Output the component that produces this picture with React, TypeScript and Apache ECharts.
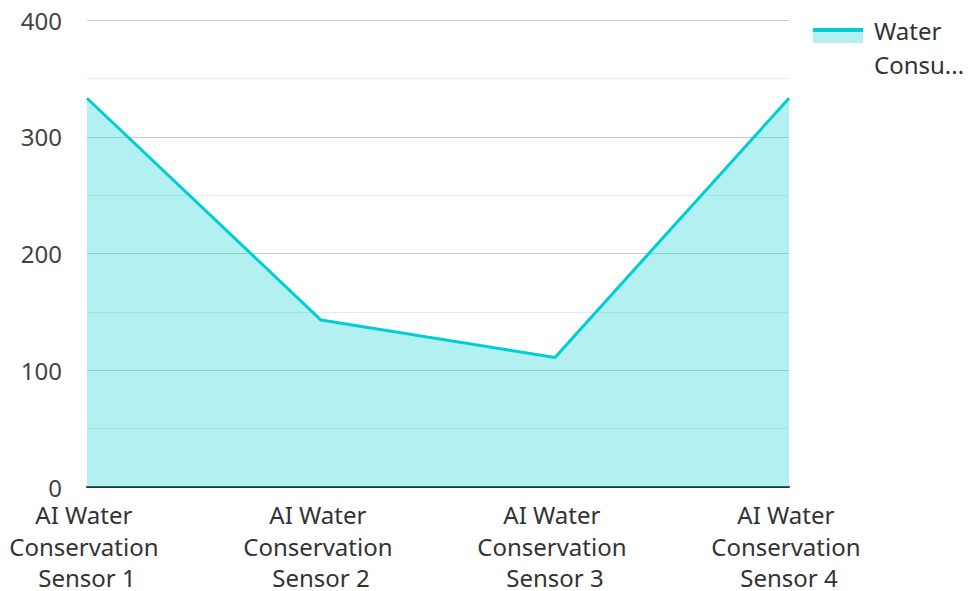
import React, { useEffect, useRef } from "react";
import * as echarts from "echarts";

const categories = [
  "AI Water Conservation Sensor 1",
  "AI Water Conservation Sensor 2",
  "AI Water Conservation Sensor 3",
  "AI Water Conservation Sensor 4",
];
const waterValues = [333, 143, 111, 333];
const seriesName = "Water Consumption";

export default function App() {
  const ref = useRef<HTMLDivElement>(null);
  useEffect(() => {
    const chart = echarts.init(ref.current!, undefined, { renderer: "svg" });
    const font = "'Noto Sans', 'Open Sans', sans-serif";
    chart.setOption({
      animation: false,
      textStyle: { fontFamily: font },
      grid: { left: 87, right: 179, top: 20, bottom: 104, outerBoundsMode: "none", containLabel: false },
      legend: {
        left: 813,
        top: 13,
        padding: 0,
        orient: "vertical",
        icon: "rect",
        itemWidth: 50,
        itemHeight: 38,
        itemStyle: {
          color: {
            type: "linear",
            x: 0,
            y: 0,
            x2: 0,
            y2: 1,
            colorStops: [
              { offset: 0, color: "#00CED1" },
              { offset: 0.105, color: "#00CED1" },
              { offset: 0.105, color: "#b2efee" },
              { offset: 0.395, color: "#b2efee" },
              { offset: 0.395, color: "rgba(255,255,255,0)" },
              { offset: 1, color: "rgba(255,255,255,0)" },
            ],
          },
          borderWidth: 0,
        },
        textStyle: { fontSize: 24, color: "#333", fontFamily: font, lineHeight: 34, padding: [0, 0, 0, 6] },
        formatter: () => "Water\nConsu...",
        data: [seriesName],
      },
      xAxis: {
        type: "category",
        data: categories,
        boundaryGap: false,
        axisLine: { show: true, lineStyle: { color: "#333", width: 2 } },
        axisTick: { show: false },
        axisLabel: {
          fontSize: 24,
          color: "#333",
          fontFamily: font,
          width: 175,
          overflow: "break",
          lineHeight: 31.5,
          margin: 12,
          interval: 0,
        },
      },
      yAxis: {
        type: "value",
        min: 0,
        max: 400,
        interval: 100,
        axisLine: { show: false },
        axisTick: { show: false },
        axisLabel: { fontSize: 24, color: "#444", fontFamily: font, margin: 25 },
        splitLine: { show: true, lineStyle: { color: "rgba(0,0,0,0.2)", width: 1 } },
        minorTick: { show: false, splitNumber: 2 },
        minorSplitLine: { show: true, lineStyle: { color: "rgba(0,0,0,0.08)", width: 1 } },
      },
      series: [
        {
          name: seriesName,
          type: "line",
          data: waterValues,
          showSymbol: false,
          symbol: "none",
          lineStyle: { color: "#00CED1", width: 3 },
          itemStyle: { color: "#00CED1" },
          areaStyle: { color: "#00CED1", opacity: 0.3, origin: "start" },
        },
      ],
    });
    return () => chart.dispose();
  }, []);
  return (
    <div
      ref={ref}
      style={{ position: "absolute", left: 0, top: 0, width: 968, height: 591 }}
    />
  );
}
